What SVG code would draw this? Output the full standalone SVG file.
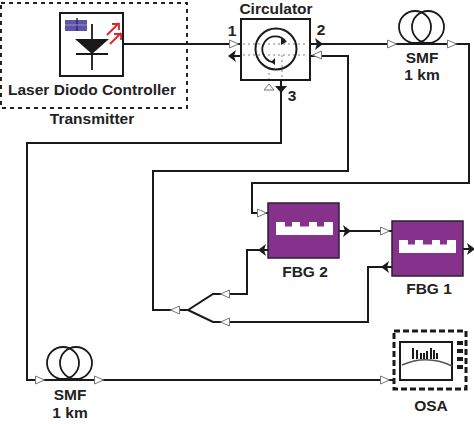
<svg xmlns="http://www.w3.org/2000/svg" width="474" height="424" viewBox="0 0 474 424">
<style>
text{font-family:"Liberation Sans",Arial,sans-serif;font-weight:bold;font-size:15.500px;fill:#222;text-anchor:middle}
.w{fill:none;stroke:#1a1a1a;stroke-width:2}
.box{fill:#fff;stroke:#1a1a1a;stroke-width:2}
.fbg{fill:#86318b;stroke:#2a2030;stroke-width:1.500}
.ta{fill:#fff;stroke:#777;stroke-width:1}
.ba{fill:#1a1a1a}
.dot{fill:none;stroke:#aaa;stroke-width:1.500;stroke-dasharray:2 3}
</style>
<defs>
<path id="gr" d="M0 0H9V4.500H16V0H24V4.500H33V0H41V4.500H48V0H57V13H0Z" fill="#fff"/>
<g id="coil"><circle cx="-6.500" cy="0" r="16" fill="none" stroke="#1a1a1a" stroke-width="1.800"/><circle cx="6.500" cy="0" r="16" fill="none" stroke="#1a1a1a" stroke-width="1.800"/></g>
<path id="tr" class="ta" d="M-4.500 -4L4.500 0L-4.500 4Z"/>
<path id="tl" class="ta" d="M4.500 -4L-4.500 0L4.500 4Z"/>
<path id="br" class="ba" d="M-3 -6L5 0L-3 6L-1 0Z"/>
<path id="bl" class="ba" d="M3 -6L-5 0L3 6L1 0Z"/>
</defs>
<g id="connectors">
<path class="w" d="M123 44H241"/>
<path class="w" d="M310 44H469V183H252V213H268"/>
<path class="w" d="M310 56H348V171H153V310H188L213 294H247V250H268"/>
<path class="w" d="M188 310L213 322H368V267H392"/>
<path class="w" d="M281 80V143H27V380H393"/>
<path class="w" d="M339 231H392"/>
<path class="w" d="M463 249H474"/>
<path class="w" d="M231 56H241"/>
<use href="#tr" x="234" y="44"/>
<use href="#bl" x="233" y="56"/>
<use href="#br" x="318" y="44"/>
<use href="#tl" x="317" y="55"/>
<use href="#tr" x="392" y="44"/>
<use href="#tr" x="452" y="44"/>
<use href="#tr" x="262" y="213"/>
<use href="#bl" x="263" y="250"/>
<use href="#br" x="346" y="231"/>
<use href="#tr" x="385" y="231"/>
<use href="#bl" x="386" y="267"/>
<use href="#br" x="470" y="249"/>
<use href="#tl" x="175" y="310"/>
<use href="#tl" x="225" y="294"/>
<use href="#tl" x="225" y="322"/>
<use href="#tr" x="40" y="380"/>
<use href="#tr" x="99" y="380"/>
<use href="#tr" x="385" y="380"/>
<path class="ta" d="M269 84L264 90H274Z"/>
<path class="ba" d="M275 86H287L281 93Z"/>
</g>
<g id="transmitter">
<rect x="1" y="3" width="186" height="105" fill="none" stroke="#222" stroke-width="2" stroke-dasharray="4 4"/>
<text x="92" y="124">Transmitter</text>
</g>
<g id="laser">
<rect class="box" x="60" y="13" width="63" height="63"/>
<rect x="65" y="20" width="22" height="11" fill="#5f55a8"/>
<path d="M77 18V31" stroke="#2e2a6a" stroke-width="1.500"/>
<path d="M65 25H87" stroke="#9a94cc" stroke-width="1"/>
<path d="M92 24V70M76 54H108" stroke="#1a1a1a" stroke-width="1.800" fill="none"/>
<path d="M75 39H109L92 54Z" fill="#1a1a1a"/>
<path d="M107 35L119 23M112 24H119V30M110 44L121 33M114 34H121V40" fill="none" stroke="#d8262c" stroke-width="1.800"/>
<text x="92" y="95">Laser Diodo Controller</text>
</g>
<g id="circulator">
<rect class="box" x="241" y="19" width="69" height="61"/>
<path class="dot" d="M243 44H308M243 55H308M282 55V79M269 68V79"/>
<circle cx="276" cy="49" r="20.500" fill="none" stroke="#1a1a1a" stroke-width="2"/>
<path d="M286 42A13 13 0 1 0 272 62" fill="none" stroke="#1a1a1a" stroke-width="1.800"/>
<path d="M281 38L286 42L281 45ZM275 58L271 62L275 65Z" fill="#1a1a1a"/>
<text x="276" y="14">Circulator</text>
<text x="232" y="36">1</text>
<text x="321" y="35">2</text>
<text x="292" y="101">3</text>
</g>
<g id="smf-top">
<use href="#coil" x="421.500" y="27"/>
<text x="422" y="63">SMF</text>
<text x="422" y="80">1 km</text>
</g>
<g id="fbg2">
<rect class="fbg" x="268" y="203" width="71" height="55"/>
<use href="#gr" x="276" y="222"/>
<text x="305" y="277">FBG 2</text>
</g>
<g id="fbg1">
<rect class="fbg" x="392" y="221" width="71" height="55"/>
<use href="#gr" x="399" y="240"/>
<text x="429" y="294">FBG 1</text>
</g>
<g id="smf-bottom">
<use href="#coil" x="69.500" y="363"/>
<text x="70" y="400">SMF</text>
<text x="70" y="418">1 km</text>
</g>
<g id="osa">
<rect x="394" y="331" width="72" height="58" fill="#fff" stroke="#1a1a1a" stroke-width="3" stroke-dasharray="6 3"/>
<rect x="400" y="342" width="52" height="38" fill="#fff" stroke="#1a1a1a" stroke-width="2"/>
<path d="M457 343h6M457 351h6M457 359h6M457 367h6" stroke="#1a1a1a" stroke-width="4"/>
<path d="M402 365Q427 354 452 366" fill="none" stroke="#555" stroke-width="1.500"/>
<path d="M413 348V359M417 350V359M421 353V359M424 353V359M427 351V359M431 348V359M434 350V359M437 353V359" stroke="#1a1a1a" stroke-width="2"/>
<text x="431" y="411">OSA</text>
</g>
</svg>
